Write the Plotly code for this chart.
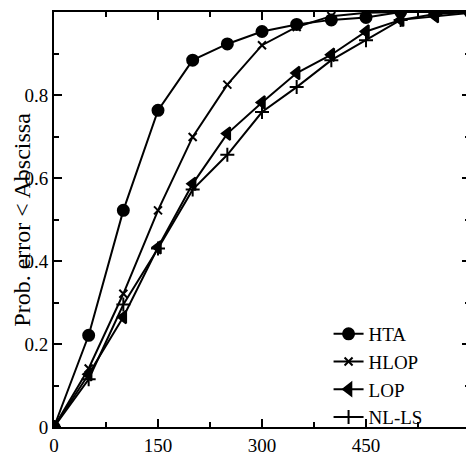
import plotly.graph_objects as go

x = [0, 50, 100, 150, 200, 250, 300, 350, 400, 450, 500, 550, 600]
hta = [0, 0.221, 0.522, 0.763, 0.884, 0.923, 0.953, 0.970, 0.981, 0.987, 1.0, 1.0, 1.0]
hlop = [0, 0.141, 0.321, 0.522, 0.699, 0.825, 0.920, 0.964, 0.990, 0.998, 1.0, 1.0, 1.0]
lop = [0, 0.127, 0.265, 0.433, 0.586, 0.707, 0.782, 0.853, 0.897, 0.953, 0.981, 0.990, 0.998]
nlls = [0, 0.115, 0.295, 0.430, 0.572, 0.656, 0.759, 0.819, 0.884, 0.932, 0.981, 0.995, 1.0]

series = [
    ("HTA", hta, "circle", 11),
    ("HLOP", hlop, "x-thin-open", 8),
    ("LOP", lop, "triangle-left", 11),
    ("NL-LS", nlls, "cross-thin-open", 10),
]

serif = "Liberation Serif"

fig = go.Figure()
for name, y, sym, sz in series:
    fig.add_trace(go.Scatter(
        x=x, y=y, name=name, mode="lines+markers",
        line=dict(color="black", width=2),
        marker=dict(symbol=sym, size=sz, color="black", line=dict(color="black", width=2)),
    ))

axis = dict(showline=True, linecolor="black", linewidth=2, mirror="allticks",
            ticks="inside", ticklen=8, tickwidth=2, tickcolor="black",
            showgrid=False, zeroline=False, automargin=False,
            tickfont=dict(family=serif, size=19, color="black"))

fig.update_xaxes(range=[0, 600], tickvals=[0, 150, 300, 450, 600],
                 minor=dict(tickvals=[75, 225, 375, 525], ticks="inside", ticklen=5, tickwidth=2, tickcolor="black"),
                 **axis)
fig.update_yaxes(range=[0, 1], tickvals=[0, 0.2, 0.4, 0.6, 0.8, 1], ticktext=["0", "0.2", "0.4", "0.6", "0.8", "1"],
                 minor=dict(tickvals=[0.1, 0.3, 0.5, 0.7, 0.9], ticks="inside", ticklen=5, tickwidth=2, tickcolor="black"),
                 ticklabelstandoff=0,
                 **axis)

fig.add_annotation(text="Location Error (m)", xref="paper", yref="paper", x=0.5, y=-0.075,
                   xanchor="center", yanchor="top", showarrow=False,
                   font=dict(family=serif, size=24, color="black"))
fig.add_annotation(text="Prob. error < Abscissa", xref="paper", yref="paper", x=-0.115, y=0.5,
                   xanchor="left", yanchor="middle", textangle=-90, showarrow=False,
                   font=dict(family=serif, size=24, color="black"))

fig.update_layout(
    width=474, height=463,
    margin=dict(l=46, r=12, t=4, b=44, autoexpand=False),
    plot_bgcolor="white", paper_bgcolor="white",
    showlegend=True,
    legend=dict(x=0.66, y=0.27, xanchor="left", yanchor="top",
                font=dict(family=serif, size=19, color="black"),
                bgcolor="rgba(0,0,0,0)", tracegroupgap=0, itemwidth=30),
)

fig.write_html("out.html")
